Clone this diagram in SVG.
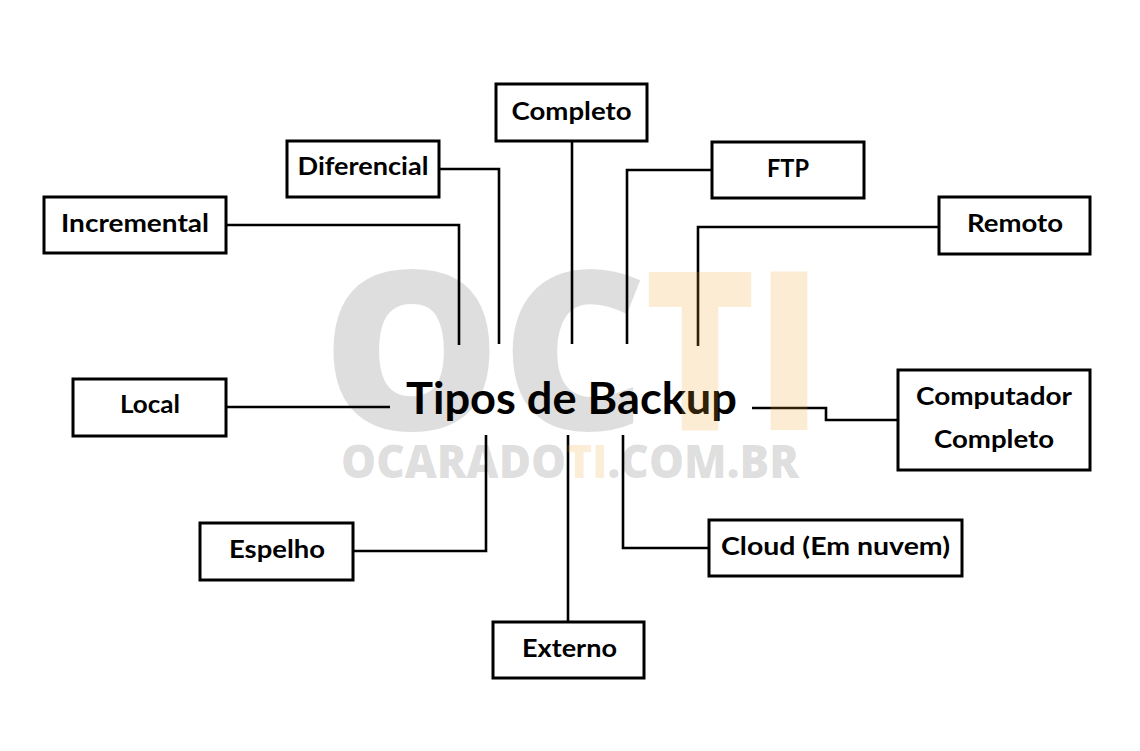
<svg xmlns="http://www.w3.org/2000/svg" width="1140" height="751" viewBox="0 0 1140 751">
<style>
.box{fill:#fff;stroke:#000;stroke-width:3}
.lbl{font-family:Lato,"Open Sans","Liberation Sans",sans-serif;font-weight:bold;font-size:24px;fill:#000;text-anchor:middle}
.conn{fill:none;stroke:#000;stroke-width:2.6}
.wm{font-family:"Open Sans","Liberation Sans",sans-serif;font-weight:800}
</style>
<rect width="1140" height="751" fill="#fff"/>
<g id="connectors">
<polyline class="conn" points="226,225 459,225 459,345"/>
<polyline class="conn" points="439,169 499,169 499,344"/>
<polyline class="conn" points="572,141 572,344"/>
<polyline class="conn" points="712,170 627,170 627,344"/>
<polyline class="conn" points="939,227 698,227 698,346"/>
<polyline class="conn" points="226,407 390,407"/>
<polyline class="conn" points="752,408 826,408 826,420 898,420"/>
<polyline class="conn" points="353,551 486,551 486,435"/>
<polyline class="conn" points="568,435 568,622"/>
<polyline class="conn" points="623,435 623,548 709,548"/>
</g>
<g id="n-completo"><rect class="box" x="496" y="84" width="151" height="57"/><text class="lbl" x="571.5" y="120" textLength="120" lengthAdjust="spacingAndGlyphs">Completo</text></g>
<g id="n-diferencial"><rect class="box" x="287" y="141" width="152" height="56"/><text class="lbl" x="363" y="175" textLength="131" lengthAdjust="spacingAndGlyphs">Diferencial</text></g>
<g id="n-incremental"><rect class="box" x="44" y="197" width="182" height="56"/><text class="lbl" x="135" y="232" textLength="148" lengthAdjust="spacingAndGlyphs">Incremental</text></g>
<g id="n-ftp"><rect class="box" x="712" y="142" width="152" height="56"/><text class="lbl" x="788" y="177" textLength="42" lengthAdjust="spacingAndGlyphs">FTP</text></g>
<g id="n-remoto"><rect class="box" x="939" y="197" width="151" height="57"/><text class="lbl" x="1015" y="232" textLength="96" lengthAdjust="spacingAndGlyphs">Remoto</text></g>
<g id="n-local"><rect class="box" x="73" y="379" width="153" height="57"/><text class="lbl" x="150" y="413" textLength="60" lengthAdjust="spacingAndGlyphs">Local</text></g>
<g id="n-computador"><rect class="box" x="898" y="370" width="192" height="100"/><text class="lbl" x="994" y="405" textLength="156" lengthAdjust="spacingAndGlyphs">Computador</text><text class="lbl" x="994" y="448" textLength="120" lengthAdjust="spacingAndGlyphs">Completo</text></g>
<g id="n-espelho"><rect class="box" x="200" y="523" width="153" height="57"/><text class="lbl" x="277" y="558" textLength="96" lengthAdjust="spacingAndGlyphs">Espelho</text></g>
<g id="n-cloud"><rect class="box" x="709" y="520" width="253" height="56"/><text class="lbl" x="835.5" y="555" textLength="229" lengthAdjust="spacingAndGlyphs">Cloud (Em nuvem)</text></g>
<g id="n-externo"><rect class="box" x="493" y="622" width="151" height="56"/><text class="lbl" x="569.5" y="657" textLength="95" lengthAdjust="spacingAndGlyphs">Externo</text></g>
<g id="n-center"><text x="571.5" y="414" font-family="Lato,'Open Sans','Liberation Sans',sans-serif" font-weight="bold" font-size="44" text-anchor="middle" textLength="331" lengthAdjust="spacingAndGlyphs">Tipos de Backup</text></g>
<g id="watermark">
<text class="wm" x="322" y="430" font-size="222" fill="#000" fill-opacity="0.13" textLength="325" lengthAdjust="spacingAndGlyphs">OC</text>
<text class="wm" x="644" y="430" font-size="222" fill="rgb(240,160,40)" fill-opacity="0.2" textLength="178" lengthAdjust="spacingAndGlyphs">TI</text>
<text class="wm" x="341" y="478" font-size="46" textLength="458" lengthAdjust="spacingAndGlyphs"><tspan fill="#000" fill-opacity="0.14">OCARADO</tspan><tspan fill="rgb(240,160,40)" fill-opacity="0.2">TI</tspan><tspan fill="#000" fill-opacity="0.14">.COM.BR</tspan></text>
</g>
</svg>
